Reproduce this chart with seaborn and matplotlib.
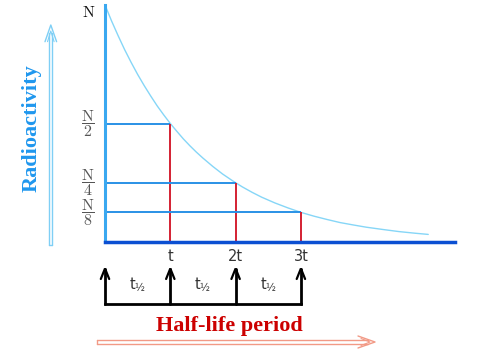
import matplotlib
matplotlib.use("Agg")
import matplotlib.pyplot as plt
import seaborn as sns
from matplotlib.transforms import blended_transform_factory

# ---- data ----
half_lives = [1, 2, 3]                      # number of half-lives
half_life_labels = ["t", "2t", "3t"]
levels = [0.5, 0.25, 0.125]                 # remaining activity (fraction of N)
y_ticks = [1.0, 0.5, 0.25, 0.125]
y_tick_labels = [r"$\mathrm{N}$", r"$\dfrac{\mathrm{N}}{2}$",
                 r"$\dfrac{\mathrm{N}}{4}$", r"$\dfrac{\mathrm{N}}{8}$"]
curve_t = [0.0, 0.1, 0.2, 0.3, 0.4, 0.5, 0.6, 0.7, 0.8, 0.9, 1.0, 1.1, 1.2,
           1.3, 1.4, 1.5, 1.65, 1.8, 1.95, 2.1, 2.25, 2.4, 2.6, 2.8, 3.0,
           3.2, 3.4, 3.6, 3.8, 4.0, 4.25, 4.5, 4.75, 4.95]
curve_n = [1.0, 0.933, 0.871, 0.812, 0.758, 0.707, 0.66, 0.616, 0.574,
           0.536, 0.5, 0.467, 0.435, 0.406, 0.379, 0.354, 0.319, 0.287,
           0.259, 0.233, 0.21, 0.189, 0.165, 0.144, 0.125, 0.109, 0.095,
           0.082, 0.072, 0.0625, 0.053, 0.044, 0.037, 0.032]
period_starts = [0, 1, 2, 3]
period_label = "t$_{½}$"

sns.set_theme(style="white")
plt.rcParams["font.family"] = ["DejaVu Sans"]

W, H = 500, 350
fig = plt.figure(figsize=(5, 3.5), dpi=100)
fig.patch.set_facecolor("white")

ax = fig.add_axes([105 / W, (H - 242) / H, 350 / W, 237 / H])
ax.set_facecolor("none")
ax.set_xlim(0, 350 / 65.3)
ax.set_ylim(0, 1)

# decay curve
sns.lineplot(x=curve_t, y=curve_n, ax=ax, color="#86d6f7", lw=1.0,
             estimator=None, sort=True)

# guide lines
for t, lv in zip(half_lives, levels):
    ax.plot([0, t], [lv, lv], color="#2a92e6", lw=1.4, solid_capstyle="butt")
    ax.plot([t, t], [0, lv], color="#d42032", lw=1.4, solid_capstyle="butt")

# spines
for s in ["top", "right"]:
    ax.spines[s].set_visible(False)
ax.spines["left"].set_color("#3aa8f0")
ax.spines["left"].set_linewidth(2.2)
ax.spines["bottom"].set_color("#0b4fd2")
ax.spines["bottom"].set_linewidth(2.5)
ax.spines["left"].set_zorder(5)
ax.spines["bottom"].set_zorder(6)

ax.set_xticks(half_lives)
ax.set_xticklabels(half_life_labels, fontsize=10.5, color="#333333")
ax.set_yticks(y_ticks)
ax.set_yticklabels(y_tick_labels, fontsize=11.5, color="#555555",
                   math_fontfamily="cm", va="center")
ylabs = ax.get_yticklabels()
ylabs[0].set_color("#111111")
ylabs[0].set_va("top")
ax.tick_params(axis="both", length=0)
ax.tick_params(axis="x", pad=5)
ax.tick_params(axis="y", pad=7)
ax.grid(False)

# decoration overlay in pixel coordinates
deco = fig.add_axes([0, 0, 1, 1], zorder=10)
deco.set_xlim(0, W)
deco.set_ylim(H, 0)
deco.axis("off")
deco.patch.set_alpha(0)

# hollow arrow for Radioactivity
c1 = "#7fcff5"
deco.plot([49.3, 49.3], [245, 33], color=c1, lw=1.0)
deco.plot([52.3, 52.3], [245, 33], color=c1, lw=1.0)
deco.plot([49.3, 52.3], [245, 245], color=c1, lw=1.0)
deco.plot([45, 50.8, 56.6], [41.7, 25, 41.7], color=c1, lw=1.0)
deco.plot([47.5, 50.8, 54.1], [41.7, 31, 41.7], color=c1, lw=0.8)

# hollow arrow for Half-life period
c2 = "#f29a86"
deco.plot([97, 368], [340.3, 340.3], color=c2, lw=1.0)
deco.plot([97, 368], [343.5, 343.5], color=c2, lw=1.0)
deco.plot([97, 97], [340.3, 343.5], color=c2, lw=1.0)
deco.plot([358, 375, 358], [336, 342, 348], color=c2, lw=1.0)
deco.plot([361, 370, 361], [338.5, 342, 345.5], color=c2, lw=0.8)

fig.text(32 / W, 1 - 128 / H, "Radioactivity", rotation=90, ha="center",
         va="center", fontsize=16, fontweight="bold", color="#1f97ee",
         family="Liberation Serif")
fig.text(229 / W, 1 - 326 / H, "Half-life period", ha="center",
         va="center", fontsize=16, fontweight="bold", color="#cc0000",
         family="Liberation Serif")

# half-life period arrows below the axis (x from data, y in pixels)
trans = blended_transform_factory(ax.transData, deco.transData)
dx = 4.2 / 65.3
deco.plot([period_starts[0], period_starts[-1]], [304, 304], color="black",
          lw=2.0, transform=trans, solid_capstyle="projecting")
for p in period_starts:
    deco.plot([p, p], [304, 269], color="black", lw=2.0, transform=trans)
    deco.plot([p - dx, p, p + dx], [279, 268.5, 279], color="black", lw=1.6,
              transform=trans, solid_joinstyle="miter")
for a, b in zip(period_starts[:-1], period_starts[1:]):
    deco.text((a + b) / 2, 284, period_label, transform=trans, ha="center",
              va="center", fontsize=10.5, color="#333333")

fig.savefig("out.png", dpi=100, facecolor="white")
